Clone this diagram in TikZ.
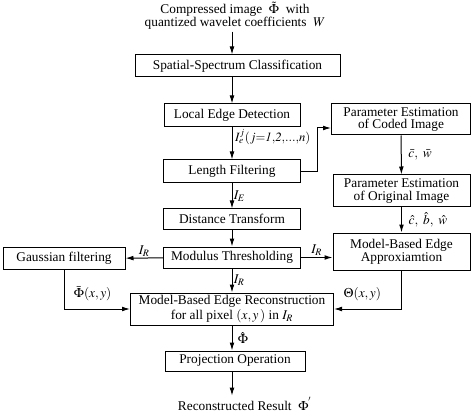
\documentclass[tikz,border=0pt]{standalone}
\usepackage{mathptmx}
\usepackage{fontspec}
\setmainfont{Liberation Serif}
\usetikzlibrary{arrows.meta, positioning}

\begin{document}
\begin{tikzpicture}[x = 0.75pt, y = -0.75pt, line width = 0.75pt,
  >={Latex[length=6pt, width=3.6pt]},
  stage/.style = {rectangle, draw, align = center, inner sep = 1pt,
                  font = \fontsize{10}{9.5}\selectfont},
  lbl/.style = {inner sep = 1pt, font = \fontsize{10}{10}\selectfont}]

\useasboundingbox (0,0) rectangle (474,413);

%%% Input
\node [lbl, align = center] (input) at (235, 16) {Compressed image\ \ $\tilde{\Phi}$\ \ with\\ quantized wavelet coefficients\ \ $W$};

%%% Main column
\node [stage, minimum width = 153.75pt, minimum height = 16.5pt] (spatial) at (237.5, 66) {Spatial-Spectrum Classification};

\node [stage, minimum width = 102pt, minimum height = 17.25pt] (local) at (232, 115.5) {Local Edge Detection};

\node [stage, minimum width = 102.75pt, minimum height = 17.25pt] (length) at (232, 171.5) {Length Filtering};

\node [stage, minimum width = 102.75pt, minimum height = 15pt] (distance) at (232, 219) {Distance Transform};

\node [stage, minimum width = 102.75pt, minimum height = 15.75pt] (modulus) at (232, 257.5) {Modulus Thresholding};

\node [stage, minimum width = 152.25pt, minimum height = 24pt] (recon) at (232, 309) {Model-Based Edge Reconstruction\\ for all pixel $(x,y\,)$ in $I_R$};

\node [stage, minimum width = 105pt, minimum height = 15pt] (proj) at (235, 361) {Projection Operation};

\node [lbl] (result) at (245, 404) {Reconstructed Result\ \ $\Phi^{'}$};

%%% Left branch
\node [stage, minimum width = 91.5pt, minimum height = 16.5pt] (gauss) at (64, 258.5) {Gaussian filtering};

%%% Right column
\node [stage, minimum width = 104.25pt, minimum height = 23.25pt] (coded) at (401, 119.5) {Parameter Estimation\\ of Coded Image};

\node [stage, minimum width = 102.75pt, minimum height = 24pt] (original) at (401.5, 191) {Parameter Estimation\\ of Original Image};

\node [stage, minimum width = 102.75pt, minimum height = 27.75pt] (approx) at (401.5, 251.5) {Model-Based Edge\\ Approxiamtion};

\coordinate (bend) at (317, 128);

%%% Connectors
\draw[->] (input.south -| local) -- (spatial.north -| local);
\draw[->] (spatial.south -| local) -- (local);
\draw[->] (local) -- (length) node [lbl, right = 1pt, pos = 0.3, font = \fontsize{9.5}{9.5}\selectfont] {$I_e^j(j{=}\mathit{1{,}2{,}...{,}n})$};
\draw[->] (length) -- (distance) node [lbl, right, midway] {$I_E$};
\draw[->] (distance) -- (modulus);
\draw[->] (modulus) -- (recon) node [lbl, right, midway] {$I_R$};
\draw[->] (recon) -- (proj.north -| recon) node [lbl, right = 3pt, midway] {$\hat{\Phi}$};
\draw[->] (proj.south -| recon) -- (result.north -| recon);

\draw[->] (length.east) -| (bend) -- (bend -| coded.west);
\draw[->] (coded) -- (original) node [lbl, right = 4pt, midway] {$\bar{c},\ \bar{w}$};
\draw[->] (original) -- (approx) node [lbl, right = 4pt, midway] {$\hat{c},\ \hat{b},\ \hat{w}$};

\draw[->] (modulus) -- (gauss) node [lbl, above, midway] {$I_R$};
\draw[->] (modulus) -- (modulus -| approx.west) node [lbl, above, midway] {$I_R$};

\draw[->] (gauss) |- (recon) node [lbl, above right = 5pt and 6pt, pos = 0.5] {$\bar{\Phi}(x,y)$};
\draw[->] (approx) |- (recon) node [lbl, above left = 5pt and 14pt, pos = 0.5] {$\Theta(x,y)$};

\end{tikzpicture}
\end{document}
